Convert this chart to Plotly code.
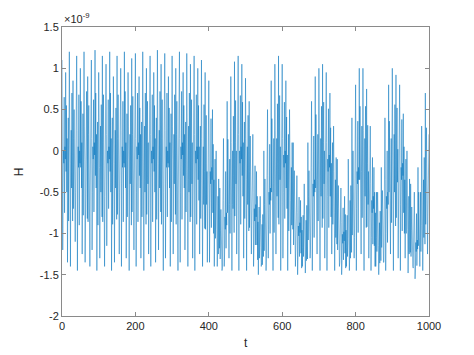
import plotly.graph_objects as go

# H values in units of 1e-11 (hundredths of 1e-9), one sample per dt
dt = 1
h_0_199 = [
    110, 20, -120, -45, 0, -15, 65, -75, 5, -10,
    95, -25, 55, -50, 15, -135, -15, 40, -85, 0,
    120, 35, -15, -140, -40, 25, -45, 70, -5, -85,
    85, -70, 15, 50, -35, 5, -110, -50, 25, -10,
    115, 25, -145, -40, 5, -20, 68, -90, 0, -15,
    100, -20, 60, -45, 10, -125, -10, 45, -78, 5,
    120, 30, -10, -135, -45, 20, -40, 72, -10, -82,
    90, -86, 20, 55, -30, 0, -140, -45, 20, -5,
    110, 15, -120, -50, 5, -10, 62, -74, 10, -5,
    122, -30, 70, -45, 20, -145, -20, 35, -90, -5,
    95, 40, -20, -130, -35, 30, -50, 56, 0, -80,
    115, -86, 10, 68, -40, 10, -140, -55, 30, -15,
    105, 20, -115, -45, 0, -15, 62, -70, 5, -10,
    120, -25, 70, -50, 15, -145, -15, 40, -89, 0,
    90, 35, -15, -135, -40, 25, -45, 52, -5, -83,
    115, -77, 15, 68, -35, 5, -125, -50, 25, -10,
    100, 25, -140, -40, 5, -20, 60, -86, 0, -15,
    120, -20, 72, -45, 10, -130, -10, 45, -80, 5,
    95, 30, -10, -145, -45, 20, -40, 55, -10, -90,
    112, -74, 20, 66, -30, 0, -120, -45, 20, -5,
]
h_200_399 = [
    118, 15, -140, -50, 5, -10, 70, -86, 10, -5,
    90, -30, 52, -45, 20, -130, -20, 35, -80, -5,
    120, 40, -20, -145, -35, 30, -50, 70, 0, -89,
    100, -77, 10, 60, -40, 10, -125, -55, 30, -15,
    115, 20, -140, -45, 0, -15, 68, -86, 5, -10,
    95, -25, 55, -50, 15, -135, -15, 40, -83, 0,
    122, 35, -15, -120, -40, 25, -45, 72, -5, -74,
    105, -89, 15, 62, -35, 5, -145, -50, 25, -10,
    118, 25, -130, -40, 5, -20, 70, -80, 0, -15,
    90, -20, 52, -45, 10, -140, -10, 45, -86, 5,
    115, 30, -10, -125, -45, 20, -40, 68, -10, -77,
    100, -89, 20, 60, -30, 0, -145, -45, 20, -5,
    120, 15, -135, -50, 5, -10, 72, -83, 10, -5,
    95, -30, 55, -45, 20, -120, -20, 35, -74, -5,
    118, 40, -20, -140, -35, 30, -50, 70, 0, -86,
    105, -80, 10, 62, -40, 10, -130, -55, 30, -15,
    115, 20, -145, -45, 0, -15, 68, -89, 5, -10,
    100, -35, 55, -60, 5, -125, -25, 30, -82, -10,
    110, 15, -35, -140, -60, 5, -65, 56, -25, -94,
    95, -95, -15, 43, -65, -25, -135, -80, -5, -40,
]
h_400_599 = [
    85, -5, -135, -70, -25, -40, 39, -93, -20, -35,
    50, -75, 8, -100, -35, -140, -65, -10, -106, -50,
    0, -45, -95, -140, -120, -55, -125, -34, -85, -118,
    -45, -131, -96, -71, -131, -103, -145, -142, -89, -114,
    15, -60, -140, -125, -80, -95, -25, -118, -75, -90,
    60, -75, 14, -100, -35, -130, -65, -10, -100, -50,
    90, 10, -40, -145, -65, 0, -70, 42, -30, -99,
    108, -79, 10, 61, -40, 0, -125, -55, 20, -15,
    115, 20, -145, -45, 0, -15, 67, -89, 5, -10,
    105, -30, 59, -55, 10, -130, -20, 35, -82, -5,
    88, 15, -35, -145, -60, 5, -65, 43, -25, -97,
    60, -93, -25, 18, -75, -35, -125, -90, -15, -50,
    20, -50, -140, -115, -70, -85, -18, -114, -65, -80,
    -25, -114, -55, -132, -86, -150, -107, -68, -130, -96,
    -55, -82, -117, -140, -135, -89, -138, -77, -110, -128,
    0, -121, -65, -34, -115, -75, -145, -130, -55, -90,
    50, -30, -130, -95, -50, -65, 8, -100, -45, -60,
    85, -50, 39, -75, -10, -145, -40, 15, -99, -25,
    105, 25, -25, -125, -50, 15, -55, 57, -15, -81,
    115, -89, 15, 67, -35, 5, -145, -50, 25, -10,
]
h_600_799 = [
    105, 15, -130, -50, -5, -20, 59, -82, 0, -15,
    85, -45, 41, -70, -5, -145, -35, 20, -97, -20,
    50, -10, -60, -125, -85, -20, -90, 10, -50, -95,
    10, -114, -55, -24, -105, -65, -140, -120, -45, -80,
    -30, -75, -150, -127, -91, -103, -56, -128, -87, -99,
    -60, -124, -80, -142, -96, -140, -117, -78, -128, -106,
    -40, -77, -112, -148, -130, -84, -133, -66, -105, -131,
    10, -108, -55, -24, -105, -65, -130, -120, -45, -80,
    60, -20, -145, -85, -40, -55, 18, -105, -35, -50,
    90, -45, 44, -70, -5, -125, -35, 20, -85, -20,
    100, 25, -25, -145, -50, 15, -55, 54, -15, -93,
    105, -82, 10, 59, -40, 0, -130, -55, 20, -15,
    95, 10, -145, -55, -10, -25, 51, -93, -5, -20,
    70, -55, 28, -80, -15, -125, -45, 10, -89, -30,
    30, -25, -75, -145, -100, -35, -105, -8, -65, -113,
    -10, -120, -70, -42, -120, -80, -140, -135, -60, -95,
    -45, -87, -150, -133, -101, -112, -69, -132, -98, -109,
    -55, -124, -77, -142, -96, -140, -117, -78, -128, -106,
    -10, -50, -100, -145, -125, -60, -130, -42, -90, -123,
    40, -102, -40, 0, -90, -50, -130, -105, -30, -65,
]
h_800_1000 = [
    80, -5, -145, -70, -25, -40, 36, -99, -20, -35,
    100, -35, 54, -60, 5, -125, -25, 30, -81, -10,
    100, 25, -25, -145, -50, 15, -55, 54, -15, -93,
    75, -92, -15, 31, -65, -25, -130, -80, -5, -40,
    30, -40, -145, -105, -60, -75, -8, -113, -55, -70,
    -20, -115, -50, -140, -75, -140, -105, -50, -122, -90,
    -50, -80, -115, -150, -133, -87, -136, -73, -108, -133,
    -20, -117, -70, -48, -120, -80, -135, -135, -60, -95,
    40, -35, -145, -100, -55, -70, 0, -111, -50, -65,
    80, -50, 36, -75, -10, -125, -40, 15, -87, -25,
    100, 30, -20, -145, -45, 20, -50, 56, -10, -91,
    92, -81, 12, 52, -38, 2, -130, -53, 22, -13,
    80, 0, -145, -65, -20, -35, 38, -97, -15, -30,
    45, -75, 5, -100, -35, -130, -65, -10, -100, -50,
    0, -45, -95, -148, -120, -55, -125, -34, -85, -123,
    -40, -128, -96, -68, -131, -103, -140, -142, -89, -114,
    -50, -97, -155, -143, -111, -122, -76, -139, -108, -119,
    -20, -115, -50, -140, -75, -140, -105, -50, -122, -90,
    30, -25, -75, -145, -100, -35, -105, -8, -65, -113,
    70, -89, -15, 28, -65, -25, -125, -80, -5, -40,
    20,
]

h_units = h_0_199 + h_200_399 + h_400_599 + h_600_799 + h_800_1000
t = [i * dt for i in range(len(h_units))]
H = [v * 1e-11 for v in h_units]

y_ticks = [-2, -1.5, -1, -0.5, 0, 0.5, 1, 1.5]
y_ticktext = ["-2", "-1.5", "-1", "-0.5", "0", "0.5", "1", "1.5"]
x_ticks = [0, 200, 400, 600, 800, 1000]

font_family = "Liberation Sans, Arial, Helvetica, sans-serif"
text_color = "#262626"
axis_color = "#8a8a8a"

fig = go.Figure()
fig.add_trace(go.Scatter(
    x=t, y=H, mode="lines",
    line=dict(color="#0072BD", width=0.5),
    hoverinfo="skip", showlegend=False,
))

common_axis = dict(
    showline=True, linecolor=axis_color, linewidth=1, mirror="ticks",
    ticks="inside", ticklen=4, tickcolor=axis_color, tickwidth=1,
    showgrid=False, zeroline=False,
    tickfont=dict(family=font_family, size=11, color=text_color),
)

fig.update_layout(
    width=474, height=355,
    margin=dict(l=62, r=45, t=27, b=39, pad=0),
    paper_bgcolor="white", plot_bgcolor="white",
    xaxis=dict(range=[0, 1000], tickvals=x_ticks,
               ticktext=[str(v) for v in x_ticks], **common_axis),
    yaxis=dict(range=[-2e-9, 1.5e-9], tickvals=[v * 1e-9 for v in y_ticks],
               ticktext=y_ticktext, **common_axis),
    annotations=[
        dict(text="×10<sup>-9</sup>", xref="paper", yref="paper", x=0.0, y=1.0,
             xanchor="left", yanchor="bottom", showarrow=False,
             font=dict(family=font_family, size=11, color=text_color)),
        dict(text="t", xref="paper", yref="paper", x=0.5, y=-0.093,
             xanchor="center", yanchor="middle", showarrow=False,
             font=dict(family=font_family, size=12, color=text_color)),
        dict(text="H", xref="paper", yref="paper", x=-0.118, y=0.5,
             xanchor="center", yanchor="middle", showarrow=False, textangle=-90,
             font=dict(family=font_family, size=12, color=text_color)),
    ],
)

fig.write_html("out.html")
